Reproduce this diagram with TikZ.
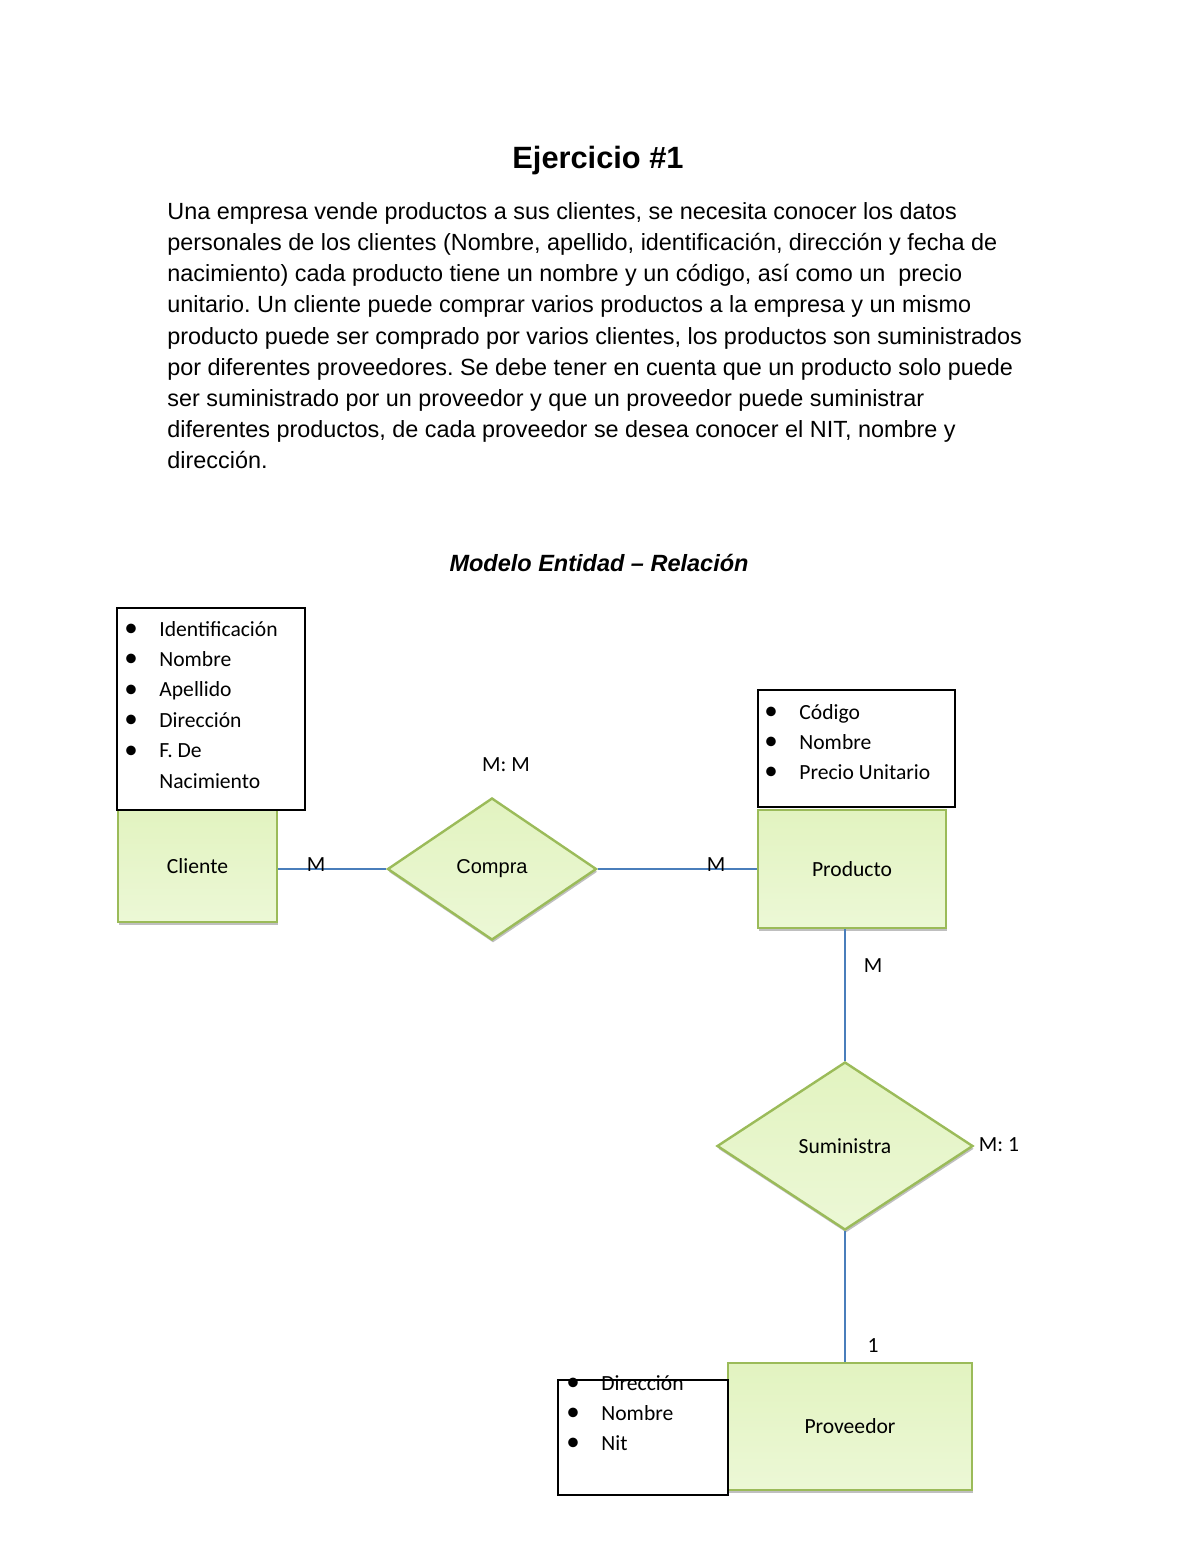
\documentclass[tikz,border=0pt]{standalone}
\usepackage{fontspec}
\setmainfont{Liberation Sans}
\newfontfamily\carlito{Carlito}
\usetikzlibrary{shapes.geometric,shadows}
\frenchspacing

\definecolor{entgreen}{HTML}{9BBB59}
\definecolor{entfillA}{HTML}{E2F3C0}
\definecolor{entfillB}{HTML}{ECF8D6}
\definecolor{linkblue}{HTML}{4A7EBB}

\newcommand\attr[1]{\makebox[17.5pt][l]{\raisebox{-0.2pt}{\scalebox{1.25}{\textbullet}}}#1}

\tikzset{
  entity/.style={rectangle,draw=entgreen,line width=1.2pt,top color=entfillA,bottom color=entfillB,
                 drop shadow={shadow xshift=0.5pt,shadow yshift=-1.4pt,fill=black!50},
                 font=\carlito\fontsize{10.8}{13}\selectfont,inner sep=0pt},
  relation/.style={diamond,draw=entgreen,line width=1.2pt,top color=entfillA,bottom color=entfillB,
                 drop shadow={shadow xshift=0.5pt,shadow yshift=-1.4pt,fill=black!50},
                 inner sep=0pt},
  attrbox/.style={rectangle,draw=black,line width=1.2pt,fill=white,inner sep=0pt},
  attritem/.style={anchor=base west,inner sep=0pt,font=\carlito\fontsize{10.8}{13}\selectfont},
  card/.style={anchor=base,inner sep=0pt,font=\carlito\fontsize{10.8}{13}\selectfont},
  link/.style={draw=linkblue,line width=1.2pt}
}

\begin{document}
\begin{tikzpicture}[x=0.5pt,y=-0.5pt]
\useasboundingbox[fill=white] (0,0) rectangle (1200,1553);

% enunciado
\node[anchor=base,inner sep=0pt,font=\bfseries\fontsize{15.4}{18}\selectfont] (titulo) at (598,168) {Ejercicio \#1};
\node[anchor=north west,inner sep=0pt,align=left,font=\fontsize{11.7}{15.6}\selectfont] (enunciado) at (167,202)
  {Una empresa vende productos a sus clientes, se necesita conocer los datos\\
   personales de los clientes (Nombre, apellido, identificación, dirección y fecha de\\
   nacimiento) cada producto tiene un nombre y un código, así como un\ \ precio\\
   unitario. Un cliente puede comprar varios productos a la empresa y un mismo\\
   producto puede ser comprado por varios clientes, los productos son suministrados\\
   por diferentes proveedores. Se debe tener en cuenta que un producto solo puede\\
   ser suministrado por un proveedor y que un proveedor puede suministrar\\
   diferentes productos, de cada proveedor se desea conocer el NIT, nombre y\\
   dirección.};
\node[anchor=base,inner sep=0pt,font=\bfseries\itshape\fontsize{11.75}{14}\selectfont] (modelo) at (599,571.5) {Modelo Entidad -- Relación};

% entidades y relaciones
\node[entity,minimum width=79.5pt,minimum height=56pt] (cliente) at (197.5,866) {Cliente};
\node[entity,minimum width=94pt,minimum height=59pt] (producto) at (852,869) {Producto};
\node[entity,minimum width=122pt,minimum height=63.5pt] (proveedor) at (850,1426.5) {Proveedor};
\node[relation,minimum width=104.5pt,minimum height=71pt] (compra) at (492,869) {Compra};
\node[relation,minimum width=128pt,minimum height=84pt,font=\carlito\fontsize{10.8}{13}\selectfont] (suministra) at (845,1146) {Suministra};

% atributos
\node[attrbox,minimum width=94pt,minimum height=101pt] (clienteatt) at (211,709) {};
\foreach \txt [count=\i] in {Identificación,Nombre,Apellido,Dirección,F. De}
  \node[attritem] (cli-\i) at (124,605.6+30.4*\i) {\attr{\txt}};
\node[attritem] (cli-6) at (159,788) {Nacimiento};

\node[attrbox,minimum width=98.5pt,minimum height=58.5pt] (productoatt) at (856.5,748.5) {};
\foreach \txt [count=\i] in {Código,Nombre,Precio Unitario}
  \node[attritem] (pro-\i) at (764,689+30*\i) {\attr{\txt}};

\node[attrbox,minimum width=85pt,minimum height=57.5pt] (proveedoratt) at (643,1437.5) {};
\foreach \txt [count=\i] in {Dirección,Nombre,Nit}
  \node[attritem] (prv-\i) at (566,1360.5+30*\i) {\attr{\txt}};

% conectores
\draw[link] (compra.west) -- (compra.west -| cliente.east);
\draw[link] (compra.east) -- (compra.east -| producto.west);
\draw[link] (suministra.north |- producto.south) -- (suministra.north);
\draw[link] (suministra.south) -- (suministra.south |- proveedor.north);

% cardinalidades
\node[card] (c1) at (316,871) {M};
\node[card] (c2) at (716,871) {M};
\node[card] (c3) at (506,771) {M: M};
\node[card] (c4) at (873,972) {M};
\node[card] (c5) at (999,1151) {M: 1};
\node[card] (c6) at (873,1352) {1};
\end{tikzpicture}
\end{document}
